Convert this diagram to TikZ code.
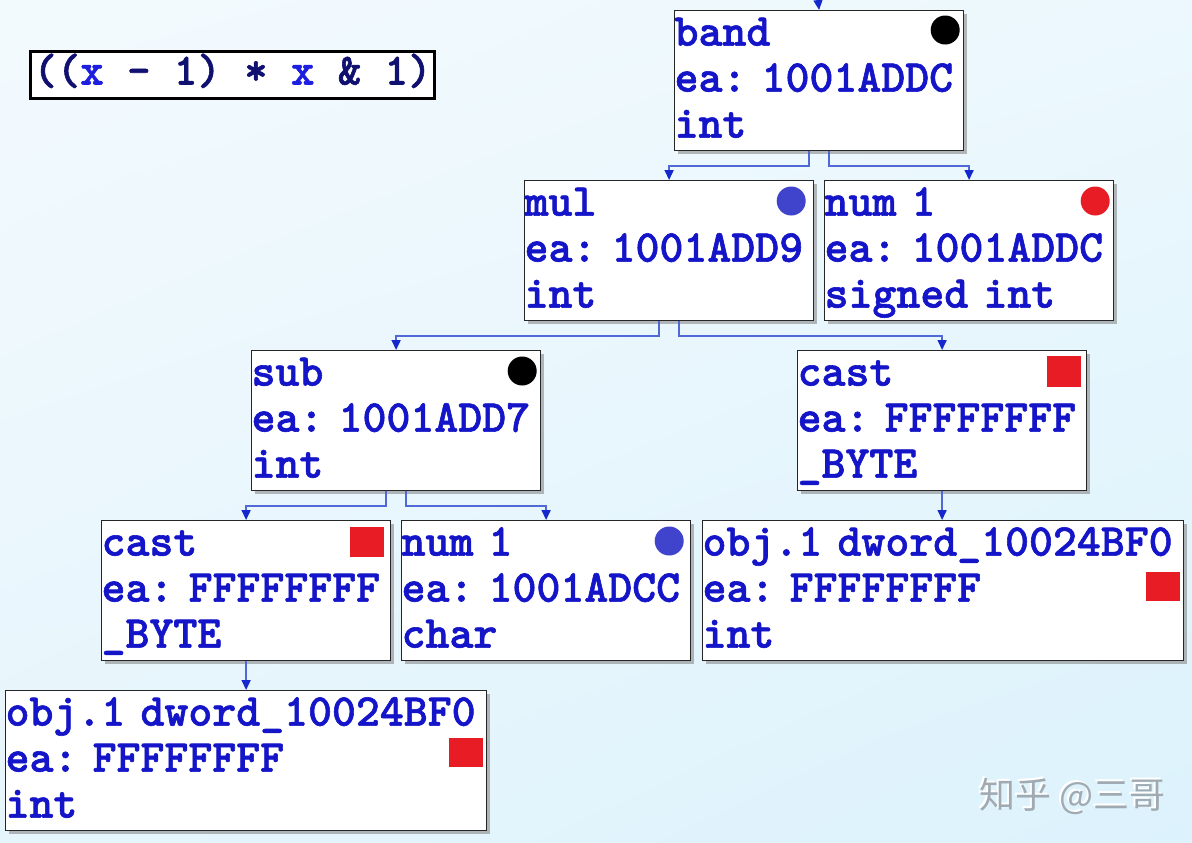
\documentclass[tikz,border=0pt]{standalone}
\usepackage{xcolor}
\usepackage{fontspec}
\usepackage{tikz}
\usetikzlibrary{calc,shadows,shadings,arrows.meta}

\newfontfamily\cjkfont{Noto Sans CJK SC}
\newfontfamily\monobold{lmmonolt10-bold.otf}[FakeBold=1.3]
\newcommand\codefont{\monobold\frenchspacing}

\definecolor{textblue}{RGB}{20,20,200}
\definecolor{navy}{RGB}{16,16,112}
\definecolor{xblue}{RGB}{30,30,225}
\definecolor{linkblue}{RGB}{80,105,215}
\definecolor{tipblue}{RGB}{20,40,205}
\definecolor{dotblue}{RGB}{64,68,204}
\definecolor{markred}{RGB}{232,28,36}
\definecolor{markgray}{RGB}{160,170,178}
\definecolor{bgUL}{RGB}{243,250,254}
\definecolor{bgUR}{RGB}{236,248,253}
\definecolor{bgLL}{RGB}{230,245,252}
\definecolor{bgLR}{RGB}{220,242,252}

\tikzset{
  tbox/.style={draw=black!85, fill=white, line width=0.6pt, anchor=north west,
    inner xsep=0pt, inner ysep=2.5pt, text width=144.5pt,
    text height=15pt, text depth=50pt, align=left, text=textblue,
    font=\codefont\fontsize{22.8}{23}\selectfont,
    drop shadow={shadow xshift=1.8pt, shadow yshift=-1.8pt, fill=black!50, opacity=.55}},
  wbox/.style={tbox, text width=240.5pt},
  link/.style={draw=linkblue, line width=0.8pt,
    -{Triangle[length=5pt,width=4.5pt,color=tipblue]}}
}

\begin{document}
\begin{tikzpicture}[x=0.5pt,y=-0.5pt]
  % Page and background
  \useasboundingbox (0,0) rectangle (1192,842);
  \shade[upper left=bgUL, upper right=bgUR, lower left=bgLL, lower right=bgLR]
    (0,0) rectangle (1192,842);

  % Expression
  \node[draw=black, line width=1.5pt, fill=white, anchor=north west,
    inner xsep=1.5pt, inner ysep=1.5pt, text height=15pt, text depth=5.5pt,
    text=navy, font=\codefont\fontsize{22.3}{23}\selectfont]
    (expr) at (29,50) {((\textcolor{xblue}{x} - 1) * \textcolor{xblue}{x} \& 1)};

  % Tree nodes
  \node[tbox] (band) at (674,10) {band\\ea: 1001ADDC\\int};
  \node[tbox] (mul) at (524,180) {mul\\ea: 1001ADD9\\int};
  \node[tbox] (numa) at (824,180) {num 1\\ea: 1001ADDC\\signed int};
  \node[tbox] (sub) at (251,350) {sub\\ea: 1001ADD7\\int};
  \node[tbox] (castr) at (797,350) {cast\\ea: FFFFFFFF\\\_BYTE};
  \node[tbox] (castl) at (101,520) {cast\\ea: FFFFFFFF\\\_BYTE};
  \node[tbox] (numb) at (401,520) {num 1\\ea: 1001ADCC\\char};
  \node[wbox] (objr) at (702,520) {obj.1 dword\_10024BF0\\ea: FFFFFFFF\\int};
  \node[wbox] (objl) at (5,690) {obj.1 dword\_10024BF0\\ea: FFFFFFFF\\int};

  % Markers
  \fill[black] ([shift={(-19,20)}]band.north east) circle (14.5);
  \fill[dotblue] ([shift={(-23,21)}]mul.north east) circle (14.5);
  \fill[markred] ([shift={(-19,21)}]numa.north east) circle (14.5);
  \fill[black] ([shift={(-19,21)}]sub.north east) circle (14.5);
  \fill[dotblue] ([shift={(-22,21)}]numb.north east) circle (14.5);
  \fill[markred] ([shift={(-40,6)}]castr.north east) rectangle ++(34,31);
  \fill[markred] ([shift={(-41,7)}]castl.north east) rectangle ++(34,30);
  \fill[markred] ([shift={(-38,52)}]objr.north east) rectangle ++(34,29);
  \fill[markred] ([shift={(-38,48)}]objl.north east) rectangle ++(34,29);

  % Connectors
  \coordinate (T) at (818,0);
  \draw[link] (T) -- (band.north);
  \draw[link] ([xshift=-5pt]band.south) -- ++(0,15) -| (mul.north);
  \draw[link] ([xshift=5pt]band.south) -- ++(0,15) -| (numa.north);
  \draw[link] ([xshift=-5pt]mul.south) -- ++(0,15) -| (sub.north);
  \draw[link] ([xshift=5pt]mul.south) -- ++(0,15) -| (castr.north);
  \draw[link] ([xshift=-5pt]sub.south) -- ++(0,15) -| (castl.north);
  \draw[link] ([xshift=5pt]sub.south) -- ++(0,15) -| (numb.north);
  \draw[link] (castl.south) -- (castl.south |- objl.north);
  \draw[link] (castr.south) -- (castr.south |- objr.north);

  % Watermark
  \node[font=\cjkfont\fontsize{18}{18}\selectfont, text=white, anchor=west]
    (markw) at (970,794) {知乎 @三哥};
  \node[font=\cjkfont\fontsize{18}{18}\selectfont, text=markgray, anchor=west]
    (mark) at (972,796) {知乎 @三哥};
\end{tikzpicture}
\end{document}
